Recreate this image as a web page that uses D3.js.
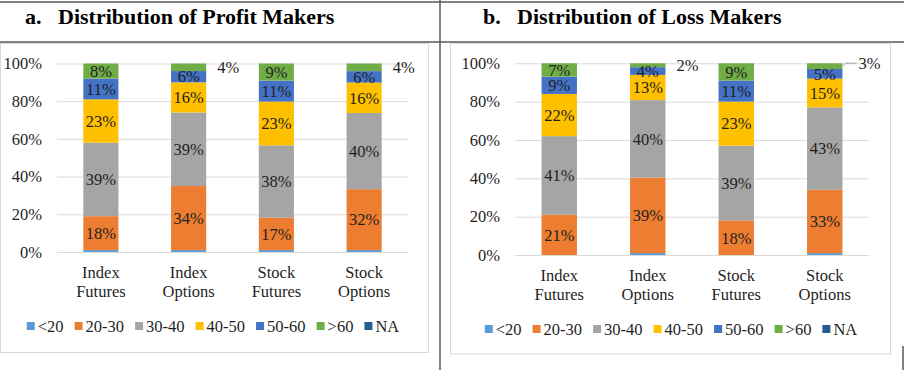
<!DOCTYPE html>
<html>
<head>
<meta charset="utf-8">
<script src="https://cdn.jsdelivr.net/npm/d3@7"></script>
<style>
  html, body { margin: 0; padding: 0; background: #fff; }
  svg text { font-family: "Liberation Serif", "Times New Roman", serif; }
</style>
</head>
<body>
<div id="chart"></div>
<script>
// categories and age groups
const categories = ["Index Futures", "Index Options", "Stock Futures", "Stock Options"];
const ageGroups = ["<20", "20-30", "30-40", "40-50", "50-60", ">60", "NA"];
const groupColors = ["#5B9BD5", "#ED7D31", "#A5A5A5", "#FFC000", "#4472C4", "#70AD47", "#255E91"];
const yTicks = [0, 0.2, 0.4, 0.6, 0.8, 1];

// share (%) of each age group, one row per category
const profitMakers = [
  [1, 18, 39, 23, 11, 8, 0],
  [1, 34, 39, 16, 6, 4, 0],
  [1, 17, 38, 23, 11, 9, 0],
  [1, 32, 40, 16, 6, 4, 0]
];
const lossMakers = [
  [0, 21, 41, 22, 9, 7, 0],
  [1, 39, 40, 13, 4, 2, 0],
  [0, 18, 39, 23, 11, 9, 0],
  [1, 33, 43, 15, 5, 3, 0]
];

const W = 904, H = 370;
const FONT = "Liberation Serif, Times New Roman, serif";
const FS = 16.5;
const svg = d3.select("#chart").append("svg")
  .attr("width", W).attr("height", H)
  .attr("font-family", FONT);

svg.append("rect").attr("width", W).attr("height", H).attr("fill", "#fff");

const color = d3.scaleOrdinal().domain(ageGroups).range(groupColors);

const panels = [
  {
    letter: "a.", title: "Distribution of Profit Makers", values: profitMakers,
    letterX: 25, titleX: 58,
    frame: [0, 43, 428, 352],
    plot: { left: 57, right: 408, top: 63.5, bottom: 252 },
    catY: 277.5, legendY: 326, legendCx: 213,
    nudge: {}
  },
  {
    letter: "b.", title: "Distribution of Loss Makers", values: lossMakers,
    letterX: 483, titleX: 517,
    frame: [450, 43, 890, 353.5],
    plot: { left: 515, right: 869, top: 63.3, bottom: 255 },
    catY: 280.5, legendY: 329, legendCx: 671,
    nudge: { "Stock Options": [16, -3] }
  }
];

// table lines
const tableLine = "#595959";
svg.append("line").attr("x1", 0).attr("x2", W).attr("y1", 2).attr("y2", 2)
  .attr("stroke", tableLine).attr("stroke-width", 1.5);
svg.append("line").attr("x1", 0).attr("x2", W).attr("y1", 42).attr("y2", 42)
  .attr("stroke", tableLine).attr("stroke-width", 1.5);
svg.append("line").attr("x1", 440).attr("x2", 440).attr("y1", 0).attr("y2", H)
  .attr("stroke", tableLine).attr("stroke-width", 1.5);
svg.append("line").attr("x1", 903).attr("x2", 903).attr("y1", 346).attr("y2", H)
  .attr("stroke", tableLine).attr("stroke-width", 1.5);

panels.forEach(drawPanel);

function label(sel) {
  return sel.append("text")
    .attr("font-family", FONT)
    .attr("font-size", FS)
    .attr("fill", "#1f1f1f");
}

function drawPanel(p) {
  const g = svg.append("g");

  // chart frame
  const [fx0, fy0, fx1, fy1] = p.frame;
  g.append("rect")
    .attr("x", fx0 + 0.5).attr("y", fy0 + 0.5)
    .attr("width", fx1 - fx0).attr("height", fy1 - fy0)
    .attr("fill", "none").attr("stroke", "#D9D9D9").attr("stroke-width", 1);

  // title
  const title = g.append("text").attr("y", 24).attr("font-family", FONT)
    .attr("font-size", 22).attr("font-weight", "bold").attr("fill", "#000");
  title.append("tspan").attr("x", p.letterX).text(p.letter);
  title.append("tspan").attr("x", p.titleX).text(p.title);

  const rows = categories.map((c, i) => {
    const r = { cat: c };
    ageGroups.forEach((k, j) => r[k] = p.values[i][j]);
    return r;
  });

  const series = d3.stack().keys(ageGroups).offset(d3.stackOffsetExpand)(rows);

  const x = d3.scaleBand().domain(categories)
    .range([p.plot.left, p.plot.right])
    .paddingInner(0.6).paddingOuter(0.3);
  const y = d3.scaleLinear().domain([0, 1]).range([p.plot.bottom, p.plot.top]);

  // gridlines + y labels
  const yAxis = g.append("g")
    .attr("transform", `translate(${p.plot.left},0)`)
    .call(d3.axisLeft(y).tickValues(yTicks).tickFormat(d3.format(".0%"))
      .tickSize(-(p.plot.right - p.plot.left)).tickPadding(15));
  yAxis.attr("font-family", FONT).attr("font-size", FS);
  yAxis.select(".domain").remove();
  yAxis.selectAll(".tick line").attr("stroke", "#D9D9D9");
  yAxis.selectAll(".tick text").attr("fill", "#1f1f1f");

  // stacked bars
  const layer = g.append("g").selectAll("g")
    .data(series).enter().append("g")
    .attr("fill", d => color(d.key));

  layer.selectAll("rect")
    .data(d => d.map(s => ({ key: d.key, s })))
    .enter().append("rect")
    .attr("x", d => x(d.s.data.cat))
    .attr("width", x.bandwidth())
    .attr("y", d => y(d.s[1]))
    .attr("height", d => Math.max(0, y(d.s[0]) - y(d.s[1])));

  // data labels
  const labelled = ["20-30", "30-40", "40-50", "50-60", ">60"];
  series.filter(s => labelled.includes(s.key)).forEach(s => {
    s.forEach(seg => {
      const v = seg.data[s.key];
      if (!v) return;
      const cat = seg.data.cat;
      const mid = y((seg[0] + seg[1]) / 2);
      if (s.key === ">60" && v < 5) {
        const nd = p.nudge[cat] || [11, 0];
        const right = x(cat) + x.bandwidth();
        const ly = mid + nd[1];
        if (nd[1] !== 0) {
          g.append("polyline")
            .attr("points", [[right + 1, mid], [right + 3, ly], [right + nd[0] - 2, ly]].join(" "))
            .attr("fill", "none").attr("stroke", "#A6A6A6").attr("stroke-width", 1);
        }
        label(g).attr("x", right + nd[0]).attr("y", ly).attr("dy", "0.35em")
          .text(v + "%");
      } else {
        label(g).attr("x", x(cat) + x.bandwidth() / 2).attr("y", mid).attr("dy", "0.35em")
          .attr("text-anchor", "middle")
          .text(v + "%");
      }
    });
  });

  // category labels (two lines)
  categories.forEach(c => {
    const t = label(g).attr("text-anchor", "middle");
    c.split(" ").forEach((w, i) => {
      t.append("tspan").attr("x", x(c) + x.bandwidth() / 2)
        .attr("y", p.catY + i * 19).text(w);
    });
  });

  // legend
  const leg = g.append("g");
  let cx = 0;
  ageGroups.forEach(k => {
    const item = leg.append("g").attr("transform", `translate(${cx},0)`);
    item.append("rect").attr("x", 0).attr("y", p.legendY - 4)
      .attr("width", 8).attr("height", 8).attr("fill", color(k));
    const t = label(item).attr("x", 11).attr("y", p.legendY).attr("dy", "0.35em").text(k);
    cx += 11 + t.node().getComputedTextLength() + 11;
  });
  const total = cx - 11;
  leg.attr("transform", `translate(${p.legendCx - total / 2},0)`);
}
</script>
</body>
</html>
